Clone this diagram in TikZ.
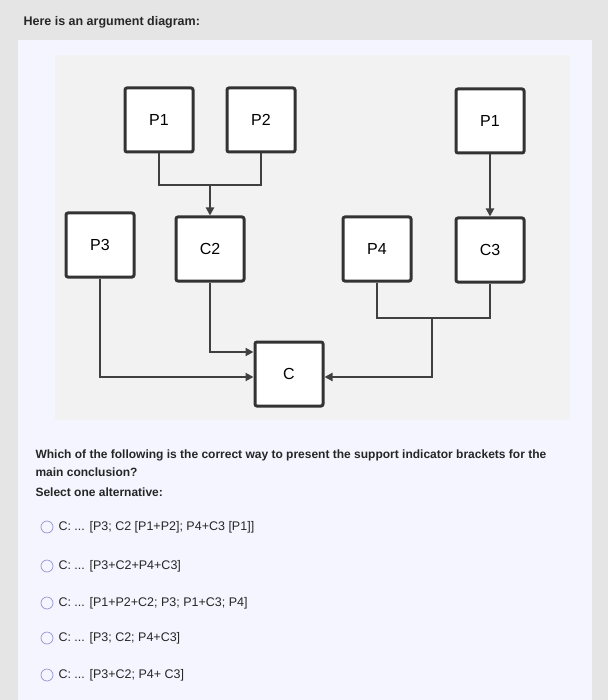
\documentclass[tikz,border=0pt]{standalone}
\usepackage{fontspec}
\setmainfont{Liberation Sans}
\usetikzlibrary{arrows.meta}
\begin{document}
\begin{tikzpicture}[x=1pt,y=-1pt,
  box/.style={draw=black!80,line width=3pt,fill=white,minimum width=68pt,minimum height=64pt,font=\fontsize{16}{18}\selectfont,rounded corners=2pt},
  ln/.style={draw=black!75,line width=2.2pt},
  arr/.style={ln,-{Triangle[length=8pt,width=8pt]}},
  txt/.style={anchor=west,font=\fontsize{12}{14}\selectfont\bfseries,text=black!85},
  opt/.style={txt,font=\fontsize{12.5}{14}\selectfont}]
\useasboundingbox (0,0) rectangle (608,700);
\fill[black!10] (0,0) rectangle (608,700);
\fill[white!96!blue] (18,40) rectangle (592,700);
\fill[black!5] (55,55) rectangle (570,420);
\node[txt,font=\fontsize{12.5}{14}\selectfont\bfseries] (title) at (20,22) {Here is an argument diagram:};
\node[box] (p1) at (159,120) {P1};
\node[box] (p2) at (261,120) {P2};
\node[box] (p1b) at (490,121) {P1};
\node[box] (p3) at (100,245) {P3};
\node[box] (c2) at (210,249) {C2};
\node[box] (p4) at (377,249) {P4};
\node[box] (c3) at (490,250) {C3};
\node[box] (c) at (289,374) {C};
\coordinate (j1) at (210,185);
\draw[ln] (p1.south) |- (j1) -| (p2.south);
\draw[arr] (j1) -- (c2.north);
\draw[arr] (p1b.south) -- (c3.north);
\draw[arr] (p3.south) |- (c.west|-0,377);
\draw[arr] (c2.south) |- (c.west|-0,352);
\coordinate (j2) at (432,318);
\draw[ln] (p4.south) |- (j2) -| (c3.south);
\draw[arr] (j2) |- (c.east|-0,377);
\node[txt] (q1) at (32,455) {Which of the following is the correct way to present the support indicator brackets for the};
\node[txt] (q2) at (32,472) {main conclusion?};
\node[txt] (sel) at (32,492) {Select one alternative:};
\foreach \y/\t/\n in {527/{C: ... [P3; C2 [P1+P2]; P4+C3 [P1]]}/a,566/{C: ... [P3+C2+P4+C3]}/b,603/{C: ... [P1+P2+C2; P3; P1+C3; P4]}/c,638/{C: ... [P3; C2; P4+C3]}/d,675/{C: ... [P3+C2; P4+ C3]}/e}{
  \node[draw=blue!40!gray!60,circle,minimum size=12pt,inner sep=0pt,line width=0.7pt] (r\n) at (47,\y) {};
  \node[opt] (o\n) at (55,\y) {\t};
}
\end{tikzpicture}
\end{document}
